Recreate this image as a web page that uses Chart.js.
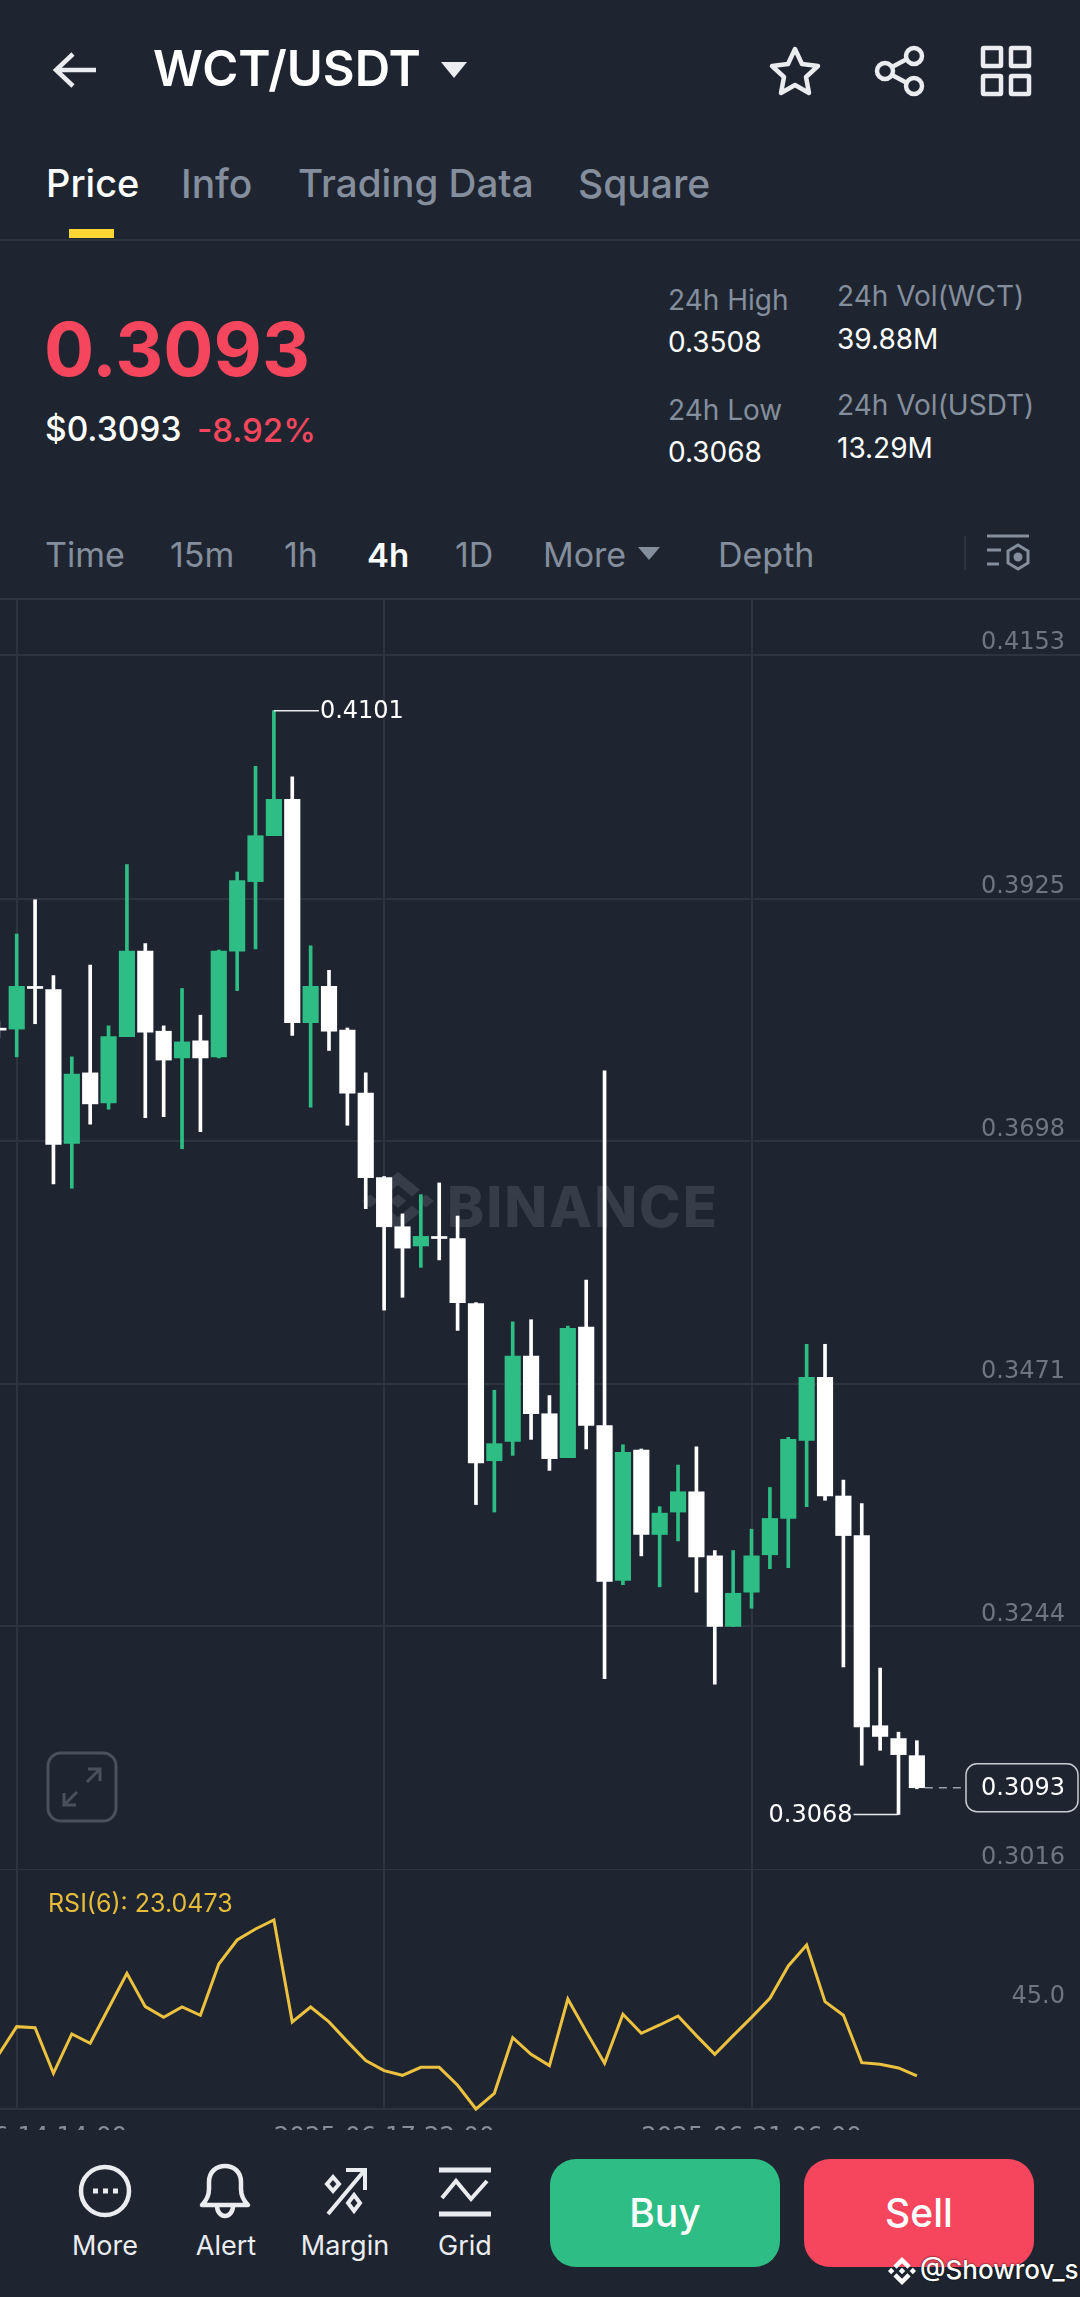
<!DOCTYPE html>
<html>
<head>
<meta charset="utf-8">
<title>WCT/USDT</title>
<script src="https://cdn.jsdelivr.net/npm/chart.js@4"></script>
<style>
  html, body { margin: 0; padding: 0; background: #1e2530; }
  body { position: relative; width: 1080px; height: 2297px; overflow: hidden; font-family: Inter, "Noto Sans", sans-serif; color: #fff; }
  .t { position: absolute; white-space: nowrap; line-height: 1; transform: translateY(-50%); }
  .grey { color: #848e9c; }
  .line { position: absolute; background: #2e343e; }
  canvas { position: absolute; left: 0; }
  svg { position: absolute; }
  #bottomBar { position: absolute; left: 0; top: 2130px; width: 1080px; height: 167px; background: #1e2530; }
  .btn { position: absolute; top: 2159px; width: 230px; height: 108px; border-radius: 26px; font-size: 39px; font-weight: 500; text-align: center; line-height: 108px; }
  .nav { position: absolute; top: 2245px; font-size: 27px; color: #eaecef; line-height: 1; transform: translate(-50%, -50%); }
</style>
</head>
<body>

<svg style="left:50px;top:50px" width="50" height="40" viewBox="0 0 50 40" fill="none" stroke="#eaecef" stroke-width="4.5"><path d="M46 20H6M23 4 6 20l17 16"/></svg>
<div class="t" style="left:153px;top:68px;font-size:49px;font-weight:600">WCT/USDT</div>
<svg style="left:440px;top:61px" width="28" height="18" viewBox="0 0 28 18" fill="#eaecef"><path d="M1 1h26L14 17z"/></svg>
<svg style="left:768px;top:45px" width="54" height="52" viewBox="0 0 54 52" fill="none" stroke="#eaecef" stroke-width="4.5" stroke-linejoin="round"><path d="M27 4l7 15 16 2-12 11 3 16-14-8-14 8 3-16L4 21l16-2z"/></svg>
<svg style="left:874px;top:45px" width="52" height="52" viewBox="0 0 52 52" fill="none" stroke="#eaecef" stroke-width="4.5"><circle cx="40" cy="11" r="8"/><circle cx="11" cy="26" r="8"/><circle cx="40" cy="41" r="8"/><path d="M18 22l15-8M18 30l15 8"/></svg>
<svg style="left:980px;top:45px" width="52" height="52" viewBox="0 0 52 52" fill="none" stroke="#eaecef" stroke-width="4.5"><rect x="3" y="3" width="18" height="18" rx="1"/><rect x="31" y="3" width="18" height="18" rx="1"/><rect x="3" y="31" width="18" height="18" rx="1"/><rect x="31" y="31" width="18" height="18" rx="1"/></svg>

<div class="t" style="left:46px;top:183px;font-size:38px;font-weight:500">Price</div>
<div class="t grey" style="left:181px;top:183px;font-size:39px;font-weight:500">Info</div>
<div class="t grey" style="left:298px;top:183px;font-size:38.6px;font-weight:500">Trading Data</div>
<div class="t grey" style="left:578px;top:183px;font-size:39px;font-weight:500">Square</div>
<div style="position:absolute;left:69px;top:229px;width:45px;height:9px;background:#fcd535"></div>
<div class="line" style="left:0;top:239px;width:1080px;height:2px"></div>

<div class="t" style="left:44px;top:349px;font-size:74.5px;font-weight:700;color:#f6465d">0.3093</div>
<div class="t" style="left:45px;top:430px;font-size:33.5px;font-weight:500">$0.3093</div>
<div class="t" style="left:197px;top:430px;font-size:33px;font-weight:500;color:#f6465d">-8.92%</div>

<div class="t grey" style="left:668px;top:300px;font-size:28px">24h High</div>
<div class="t" style="left:668px;top:342px;font-size:28px">0.3508</div>
<div class="t grey" style="left:837px;top:296px;font-size:28px">24h Vol(WCT)</div>
<div class="t" style="left:837px;top:339px;font-size:28px">39.88M</div>
<div class="t grey" style="left:668px;top:410px;font-size:28px">24h Low</div>
<div class="t" style="left:668px;top:452px;font-size:28px">0.3068</div>
<div class="t grey" style="left:837px;top:405px;font-size:28px">24h Vol(USDT)</div>
<div class="t" style="left:837px;top:448px;font-size:28px">13.29M</div>

<div class="t grey" style="left:45px;top:555px;font-size:34px">Time</div>
<div class="t grey" style="left:170px;top:555px;font-size:34px">15m</div>
<div class="t grey" style="left:284px;top:555px;font-size:34px">1h</div>
<div class="t" style="left:367px;top:555px;font-size:33px;font-weight:600">4h</div>
<div class="t grey" style="left:455px;top:555px;font-size:34px">1D</div>
<div class="t grey" style="left:543px;top:555px;font-size:34px">More</div>
<svg style="left:637px;top:546px" width="24" height="15" viewBox="0 0 24 15" fill="#848e9c"><path d="M1 1h22L12 14z"/></svg>
<div class="t grey" style="left:718px;top:555px;font-size:34px">Depth</div>
<div class="line" style="left:964px;top:536px;width:2px;height:34px"></div>
<svg style="left:985px;top:533px" width="46" height="42" viewBox="0 0 46 42" fill="none" stroke="#848e9c" stroke-width="3"><path d="M2 3h42M2 17h14M2 31h12"/><path d="M33 12l10 6v12l-10 6-10-6V18z"/><circle cx="33" cy="24" r="3" fill="#848e9c"/></svg>
<div class="line" style="left:0;top:598px;width:1080px;height:2px"></div>

<!-- watermark sits under the candles -->
<svg style="left:362px;top:1172px" width="72" height="58" viewBox="0 0 126.61 126.61" preserveAspectRatio="none" fill="#363d49"><path d="M38.73 53.2 63.31 28.63 87.9 53.22 102.2 38.92 63.31 0 24.43 38.9zM0 63.31 14.3 49 28.6 63.31 14.3 77.61zM38.73 73.41 63.31 97.99 87.9 73.4 102.21 87.69 63.31 126.61 24.43 87.73zM98 63.31 112.3 49 126.61 63.31 112.3 77.61zM77.83 63.3 63.31 48.78 52.57 59.51 51.33 60.74 48.79 63.28 63.31 77.83z"/></svg>
<div class="t" style="left:447px;top:1207px;font-size:56px;font-weight:800;color:#363d49;letter-spacing:2px">BINANCE</div>

<canvas id="priceChart" width="1080" height="1271" style="top:599px"></canvas>
<canvas id="rsiChart" width="1080" height="291" style="top:1869px"></canvas>

<svg style="left:46px;top:1751px" width="72" height="72" viewBox="0 0 72 72" fill="none" stroke="#4a515c" stroke-width="3"><rect x="2" y="2" width="68" height="68" rx="13"/><path d="M18 54l13-13M18 42v12h12M54 18 41 31M42 18h12v12"/></svg>
<div id="rsiLabel" class="t" style="left:48px;top:1903px;font-size:25px;color:#e6bc3a"></div>

<div id="bottomBar"></div>
<svg style="left:77px;top:2163px" width="56" height="56" viewBox="0 0 56 56" fill="none" stroke="#eaecef" stroke-width="4.5"><circle cx="28" cy="28" r="24"/><path d="M16 28h5M26 28h5M36 28h5" stroke-width="5"/></svg>
<svg style="left:198px;top:2163px" width="54" height="56" viewBox="0 0 54 56" fill="none" stroke="#eaecef" stroke-width="4.5" stroke-linejoin="round"><path d="M4 42c5-5 7-9 7-16v-7C11 9 18 3 27 3s16 6 16 16v7c0 7 2 11 7 16z"/><path d="M19 43c0 6 4 10 8 10s8-4 8-10"/></svg>
<svg style="left:322px;top:2166px" width="48" height="52" viewBox="0 0 48 52" fill="none" stroke="#eaecef" stroke-width="4"><path d="M6 48 42 5M24 4h19v20"/><path d="M11 11l6 7-6 7-6-7zM32 29l6 8-6 8-6-8z"/></svg>
<svg style="left:437px;top:2166px" width="56" height="52" viewBox="0 0 56 52" fill="none" stroke="#eaecef" stroke-width="4"><path d="M2 4h52M2 48h52" stroke-width="5"/><path d="M5 32 19 15l15 18L50 15"/></svg>
<div class="nav" style="left:105px">More</div>
<div class="nav" style="left:226px">Alert</div>
<div class="nav" style="left:345px">Margin</div>
<div class="nav" style="left:465px">Grid</div>
<div class="btn" style="left:550px;background:#2ebd85">Buy</div>
<div class="btn" style="left:804px;background:#f6465d">Sell</div>
<svg style="left:888px;top:2257px" width="28" height="28" viewBox="0 0 126.61 126.61" fill="#fff"><path d="M38.73 53.2 63.31 28.63 87.9 53.22 102.2 38.92 63.31 0 24.43 38.9zM0 63.31 14.3 49 28.6 63.31 14.3 77.61zM38.73 73.41 63.31 97.99 87.9 73.4 102.21 87.69 63.31 126.61 24.43 87.73zM98 63.31 112.3 49 126.61 63.31 112.3 77.61zM77.83 63.3 63.31 48.78 52.57 59.51 51.33 60.74 48.79 63.28 63.31 77.83z"/></svg>
<div class="t" style="left:920px;top:2270px;font-size:26px;font-weight:500;text-shadow:0 0 2px #000">@Showrov_s</div>

<script>
// first candle is the one cut off by the left edge, so positions start at -1
const firstPosition = -1;

const opens = [0.3803, 0.3803, 0.3842, 0.3840, 0.3696, 0.3762, 0.3734, 0.3796, 0.3876, 0.3801,
  0.3776, 0.3792, 0.3777, 0.3876, 0.3941, 0.3984, 0.4018, 0.3809, 0.3843, 0.3802,
  0.3743, 0.3664, 0.3618, 0.3600, 0.3608, 0.3607, 0.3546, 0.3399, 0.3417, 0.3497,
  0.3443, 0.3402, 0.3524, 0.3432, 0.3287, 0.3409, 0.3330, 0.3351, 0.3370, 0.3310,
  0.3244, 0.3276, 0.3311, 0.3345, 0.3418, 0.3477, 0.3366, 0.3329, 0.3151, 0.3139, 0.3123];
const closes = [0.3802, 0.3843, 0.3841, 0.3695, 0.3761, 0.3733, 0.3796, 0.3876, 0.3800, 0.3774,
  0.3791, 0.3776, 0.3876, 0.3942, 0.3984, 0.4018, 0.3809, 0.3843, 0.3801, 0.3743,
  0.3664, 0.3618, 0.3598, 0.3609, 0.3607, 0.3547, 0.3397, 0.3415, 0.3497, 0.3443,
  0.3401, 0.3523, 0.3432, 0.3286, 0.3407, 0.3330, 0.3350, 0.3370, 0.3309, 0.3244,
  0.3275, 0.3310, 0.3345, 0.3419, 0.3477, 0.3366, 0.3329, 0.3150, 0.3141, 0.3124, 0.3093];
const highs = [0.3810, 0.3892, 0.3924, 0.3853, 0.3777, 0.3863, 0.3806, 0.3957, 0.3883, 0.3806,
  0.3841, 0.3816, 0.3877, 0.3950, 0.4049, 0.4101, 0.4039, 0.3881, 0.3858, 0.3804,
  0.3762, 0.3665, 0.3630, 0.3648, 0.3659, 0.3628, 0.3547, 0.3465, 0.3529, 0.3531,
  0.3460, 0.3525, 0.3568, 0.3764, 0.3414, 0.3410, 0.3356, 0.3395, 0.3412, 0.3315,
  0.3315, 0.3335, 0.3374, 0.3421, 0.3508, 0.3508, 0.3381, 0.3359, 0.3205, 0.3145, 0.3137];
const lows = [0.3795, 0.3777, 0.3808, 0.3658, 0.3654, 0.3714, 0.3728, 0.3796, 0.3720, 0.3721,
  0.3691, 0.3707, 0.3776, 0.3839, 0.3878, 0.3984, 0.3797, 0.3730, 0.3783, 0.3713,
  0.3635, 0.3540, 0.3552, 0.3580, 0.3587, 0.3521, 0.3358, 0.3351, 0.3404, 0.3419,
  0.3390, 0.3402, 0.3410, 0.3195, 0.3283, 0.3310, 0.3281, 0.3324, 0.3276, 0.3190,
  0.3244, 0.3261, 0.3298, 0.3299, 0.3356, 0.3362, 0.3206, 0.3114, 0.3128, 0.3068, 0.3092];
const rsiValues = [29.93, 39.22, 38.89, 23.93, 36.81, 33.76, 45.22, 56.69, 45.77, 42.27,
  45.66, 42.93, 59.75, 67.61, 71.21, 74.16, 40.75, 45.66, 40.75, 34.30,
  28.08, 24.80, 23.27, 25.89, 25.89, 20.00, 12.23, 17.38, 35.61, 30.15,
  26.44, 48.28, 37.58, 27.20, 43.26, 37.03, 39.76, 42.71, 36.27, 30.15,
  36.27, 42.27, 48.50, 59.09, 65.97, 47.41, 42.93, 27.42, 26.88, 25.68, 23.0473];

const priceTicks = [0.3016, 0.3244, 0.3471, 0.3698, 0.3925, 0.4153];
const rsiTicks = [45];
const timePositions = [0, 20, 40];
const timeLabels = ["2025-06-14 14:00", "2025-06-17 22:00", "2025-06-21 06:00"];
const lastPrice = 0.3093;

const GREEN = "#2ebd85";
const WHITE = "#ffffff";
const GRID = "#2e343e";
const BG = "#1e2530";

Chart.defaults.font.family = "'DejaVu Sans'";
Chart.defaults.devicePixelRatio = 1;

document.getElementById("rsiLabel").textContent = `RSI(6): ${rsiValues[rsiValues.length - 1]}`;

const candleColors = opens.map((o, i) => (closes[i] >= o ? GREEN : WHITE));
const xOf = i => i + firstPosition;

// long date labels make chart.js pad the axis, which would squeeze the plot
const noPadding = scale => {
  scale.paddingLeft = 0;
  scale.paddingRight = 0;
  scale.paddingTop = 0;
  scale.paddingBottom = 0;
};

// the mirrored y axis should not take any width from the plot
const flatYAxis = scale => {
  noPadding(scale);
  scale.width = 0;
};

// shared x range so both panes line up candle for candle
const xScale = {
  type: "linear",
  offset: false,
  min: -0.909,
  max: 57.88,
  afterBuildTicks: scale => { scale.ticks = timePositions.map(v => ({ value: v })); },
  grid: { color: GRID, lineWidth: 2, drawTicks: false, offset: false }
};

const priceCallouts = {
  id: "priceCallouts",
  afterDatasetsDraw(chart) {
    const { ctx, scales: { x, y } } = chart;
    const hi = highs.indexOf(Math.max(...highs));
    const lo = lows.indexOf(Math.min(...lows));
    const last = closes.length - 1;
    ctx.save();
    ctx.font = "24px 'DejaVu Sans'";
    ctx.textBaseline = "middle";
    ctx.strokeStyle = "#e8eaed";
    ctx.fillStyle = "#ffffff";
    ctx.lineWidth = 1.5;

    const hx = x.getPixelForValue(xOf(hi));
    const hy = y.getPixelForValue(highs[hi]);
    ctx.beginPath();
    ctx.moveTo(hx, hy);
    ctx.lineTo(hx + 45, hy);
    ctx.stroke();
    ctx.textAlign = "left";
    ctx.fillText(highs[hi].toFixed(4), hx + 46, hy + 1);

    const lx = x.getPixelForValue(xOf(lo));
    const ly = y.getPixelForValue(lows[lo]);
    ctx.beginPath();
    ctx.moveTo(lx, ly);
    ctx.lineTo(lx - 45, ly);
    ctx.stroke();
    ctx.textAlign = "right";
    ctx.fillText(lows[lo].toFixed(4), lx - 46, ly + 1);

    // current price tag
    const cy = y.getPixelForValue(lastPrice);
    ctx.strokeStyle = "#9aa0a8";
    ctx.setLineDash([8, 6]);
    ctx.beginPath();
    ctx.moveTo(x.getPixelForValue(xOf(last)) + 8, cy);
    ctx.lineTo(966, cy);
    ctx.stroke();
    ctx.setLineDash([]);
    ctx.strokeStyle = "#c9cdd3";
    ctx.fillStyle = BG;
    ctx.beginPath();
    ctx.roundRect(966, cy - 24, 112, 48, 11);
    ctx.fill();
    ctx.stroke();
    ctx.fillStyle = "#ffffff";
    ctx.fillText(lastPrice.toFixed(4), 1065, cy + 1);
    ctx.restore();
  }
};

new Chart(document.getElementById("priceChart"), {
  type: "bar",
  data: {
    datasets: [
      {
        // bodies
        data: opens.map((o, i) => ({ x: xOf(i), y: [o, closes[i]] })),
        backgroundColor: candleColors,
        barThickness: 15.5,
        minBarLength: 2,
        grouped: false
      },
      {
        // wicks
        data: highs.map((h, i) => ({ x: xOf(i), y: [lows[i], h] })),
        backgroundColor: candleColors,
        barThickness: 3,
        grouped: false
      }
    ]
  },
  options: {
    responsive: false,
    animation: false,
    layout: { autoPadding: false, padding: 0 },
    plugins: { legend: { display: false }, tooltip: { enabled: false } },
    scales: {
      x: { ...xScale, afterFit: noPadding, border: { display: false }, ticks: { display: false } },
      y: {
        position: "right",
        min: 0.3016,
        max: 0.42055,
        afterBuildTicks: scale => { scale.ticks = priceTicks.map(v => ({ value: v })); },
        afterFit: flatYAxis,
        grid: { color: GRID, lineWidth: 2, drawTicks: false },
        border: { display: false },
        ticks: {
          mirror: true,
          align: "end",
          padding: -15,
          color: "#6f7681",
          font: { size: 24 },
          callback: v => v.toFixed(4)
        }
      }
    }
  },
  plugins: [priceCallouts]
});

new Chart(document.getElementById("rsiChart"), {
  type: "line",
  data: {
    datasets: [{
      data: rsiValues.map((v, i) => ({ x: xOf(i), y: v })),
      borderColor: "#ecc13f",
      borderWidth: 3,
      pointRadius: 0,
      tension: 0,
      clip: false
    }]
  },
  options: {
    responsive: false,
    animation: false,
    layout: { autoPadding: false, padding: 0 },
    plugins: { legend: { display: false }, tooltip: { enabled: false } },
    scales: {
      x: {
        ...xScale,
        afterFit: scale => { noPadding(scale); scale.height = 51; },
        border: { display: true, color: GRID, width: 2 },
        ticks: {
          maxRotation: 0,
          autoSkip: false,
          padding: 14,
          color: "#848e9c",
          font: { size: 24.5 },
          callback: v => timeLabels[timePositions.indexOf(v)]
        }
      },
      y: {
        position: "right",
        min: 12.23,
        max: 90.87,
        afterBuildTicks: scale => { scale.ticks = rsiTicks.map(v => ({ value: v })); },
        afterFit: flatYAxis,
        grid: { display: false, drawTicks: false },
        border: { display: false },
        ticks: {
          mirror: true,
          align: "end",
          padding: -15,
          color: "#6f7681",
          font: { size: 24 },
          callback: v => v.toFixed(1)
        }
      }
    }
  }
});
</script>
</body>
</html>
